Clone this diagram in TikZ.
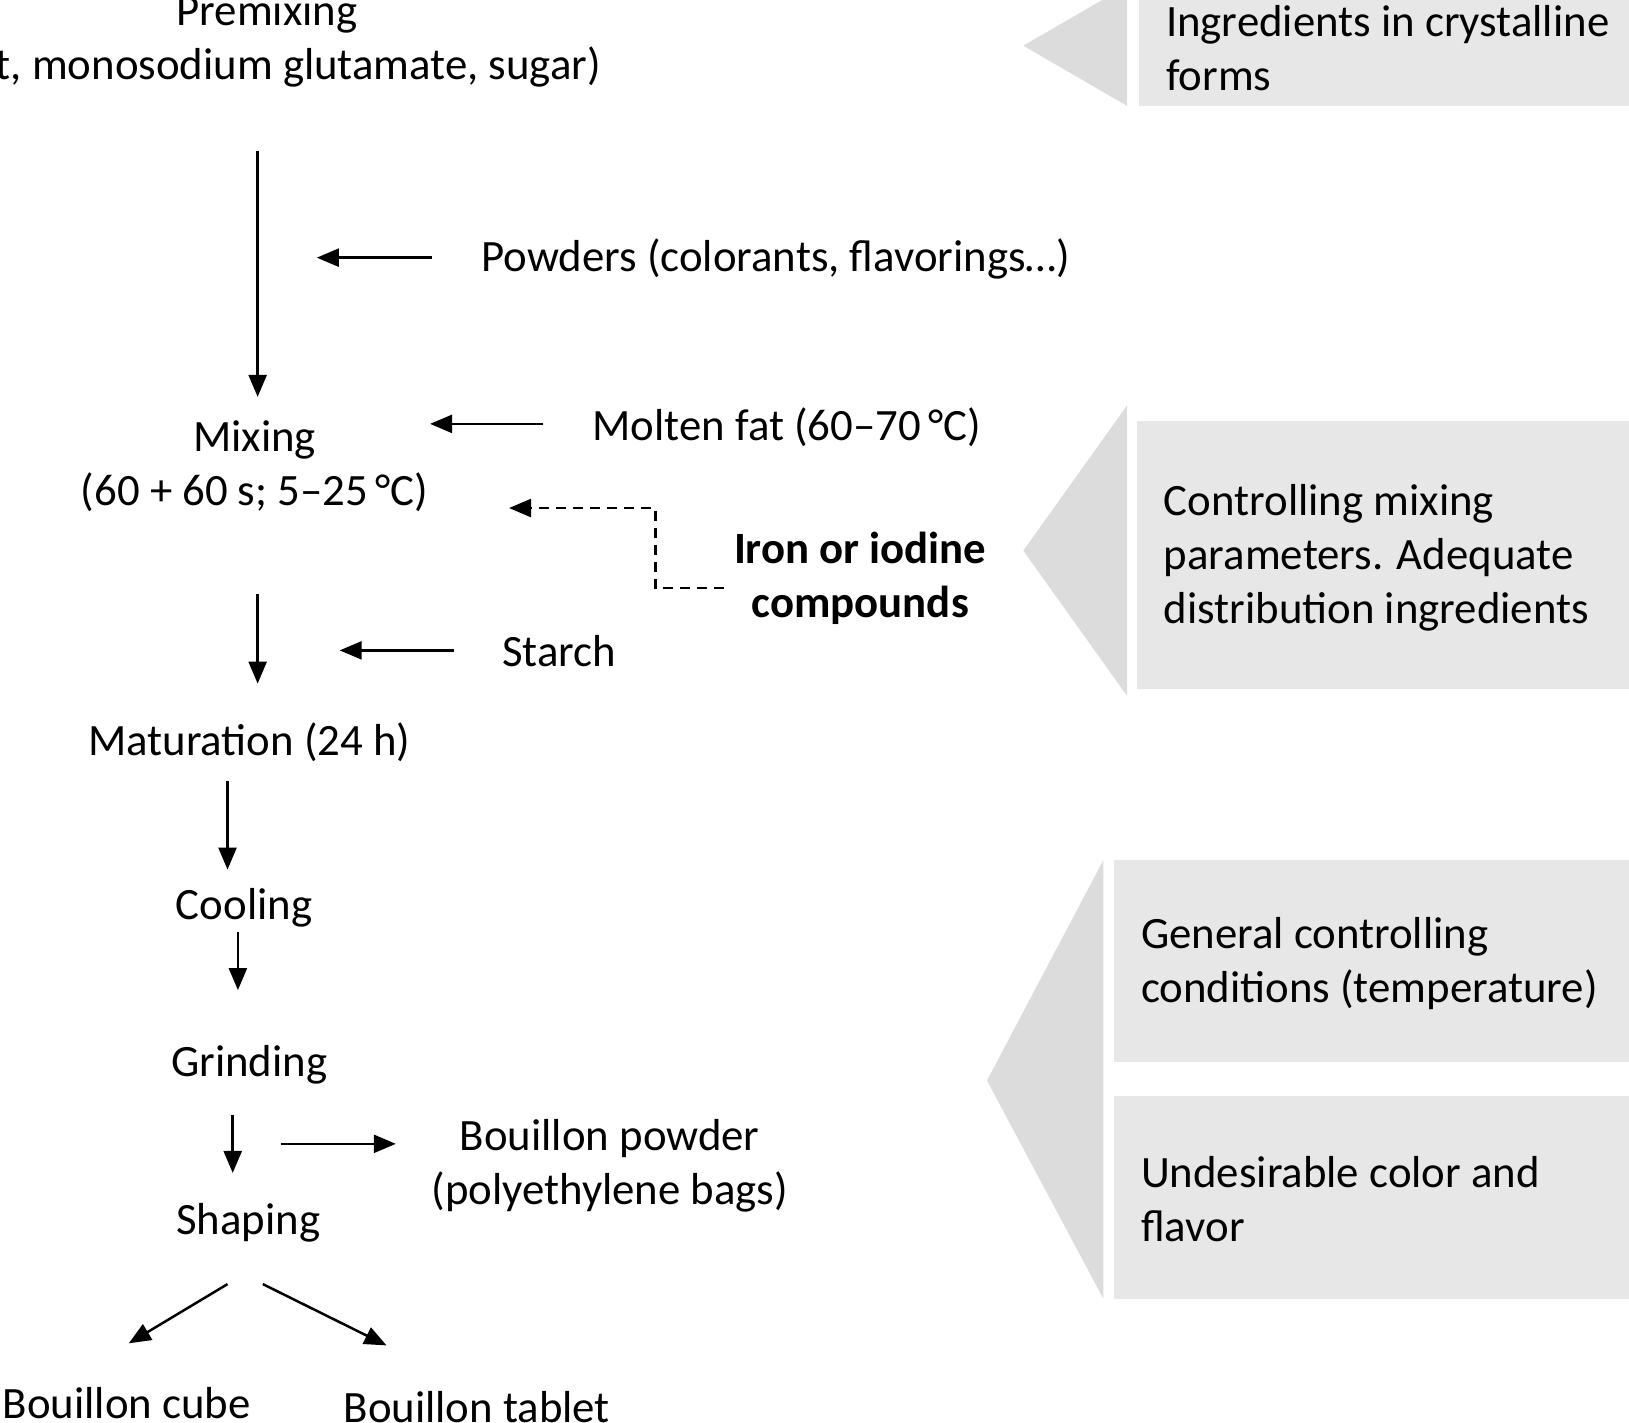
\documentclass[tikz,border=0pt]{standalone}
\usepackage{fontspec}
\setmainfont{Carlito}
\usetikzlibrary{arrows.meta}
\definecolor{trigray}{HTML}{DCDCDC}
\definecolor{boxgray}{HTML}{E7E7E7}
\begin{document}
\begin{tikzpicture}[x=0.51945pt,y=-0.51945pt,
  lbl/.style={font=\fontsize{22.4}{27}\selectfont, inner sep=0pt, align=center},
  lbll/.style={lbl, anchor=west, align=left},
  flow/.style={line width=1.25pt, -{Triangle[length=11pt,width=9pt]}},
  dflow/.style={flow, dash pattern=on 5pt off 3.5pt},
  tri/.style={fill=trigray},
  gbox/.style={fill=boxgray}]
\useasboundingbox (0,0) rectangle (1568,1369);
% gray panels
\fill[tri] (985,44) -- (1085,-14) -- (1085,102) -- cycle;
\fill[gbox] (1096,-10) rectangle (1580,102);
\fill[tri] (985,530) -- (1085,390) -- (1085,670) -- cycle;
\fill[gbox] (1094,405) rectangle (1580,663);
\fill[tri] (950,1040) -- (1062,828) -- (1062,1250) -- cycle;
\fill[gbox] (1072,828) rectangle (1580,1022);
\fill[gbox] (1072,1055) rectangle (1580,1250);
% panel texts
\node[lbll] (ingr) at (1122,46) {Ingredients in crystalline\\forms};
\node[lbll] (ctrl) at (1120,537) {Controlling mixing\\parameters. Adequate\\distribution ingredients};
\node[lbll] (gen) at (1098,927) {General controlling\\conditions (temperature)};
\node[lbll] (und) at (1098,1154) {Undesirable color and\\flavor};
% flow texts
\node[lbl] (premix) at (257,39) {Premixing\\(salt, monosodium glutamate, sugar)};
\node[lbll] (powders) at (463,249) {Powders (colorants, flavorings…)};
\node[lbl] (mixing) at (245,449) {Mixing\\(60 + 60 s; 5–25\,°C)};
\node[lbll] (molten) at (570,411) {Molten fat (60–70\,°C)};
\node[lbl, font=\fontsize{22.4}{27}\selectfont\bfseries] (iron) at (828,557) {Iron or iodine\\compounds};
\node[lbll] (starch) at (483,627) {Starch};
\node[lbl] (matur) at (240,714) {Maturation (24 h)};
\node[lbl] (cool) at (235,874) {Cooling};
\node[lbl] (grind) at (240,1025) {Grinding};
\node[lbl] (bpowder) at (587,1122) {Bouillon powder\\(polyethylene bags)};
\node[lbl] (shape) at (239,1177) {Shaping};
\node[lbl] (cube) at (122,1351) {Bouillon cube};
\node[lbl] (tablet) at (459,1354) {Bouillon tablet};
% arrow end points
\coordinate (a1s) at (248,145); \coordinate (a1e) at (248,382);
\coordinate (a2s) at (416,248); \coordinate (a2e) at (305,248);
\coordinate (a3s) at (523,408); \coordinate (a3e) at (414,408);
\coordinate (d1) at (697,566); \coordinate (d2) at (631,566);
\coordinate (d3) at (631,489); \coordinate (d4) at (490,489);
\coordinate (a4s) at (248,572); \coordinate (a4e) at (248,658);
\coordinate (a5s) at (437,626); \coordinate (a5e) at (327,626);
\coordinate (a6s) at (219,752); \coordinate (a6e) at (219,837);
\coordinate (a7s) at (229,897); \coordinate (a7e) at (229,953);
\coordinate (a8s) at (224,1073); \coordinate (a8e) at (224,1129);
\coordinate (a9s) at (270,1101); \coordinate (a9e) at (381,1101);
\coordinate (a10s) at (219,1236); \coordinate (a10e) at (124,1293);
\coordinate (a11s) at (253,1236); \coordinate (a11e) at (372,1295);
% arrows
\draw[flow] (a1s) -- (a1e);
\draw[flow] (a2s) -- (a2e);
\draw[flow] (a3s) -- (a3e);
\draw[dflow] (d1) -- (d2) -- (d3) -- (d4);
\draw[flow] (a4s) -- (a4e);
\draw[flow] (a5s) -- (a5e);
\draw[flow] (a6s) -- (a6e);
\draw[flow] (a7s) -- (a7e);
\draw[flow] (a8s) -- (a8e);
\draw[flow] (a9s) -- (a9e);
\draw[flow] (a10s) -- (a10e);
\draw[flow] (a11s) -- (a11e);
\end{tikzpicture}
\end{document}
